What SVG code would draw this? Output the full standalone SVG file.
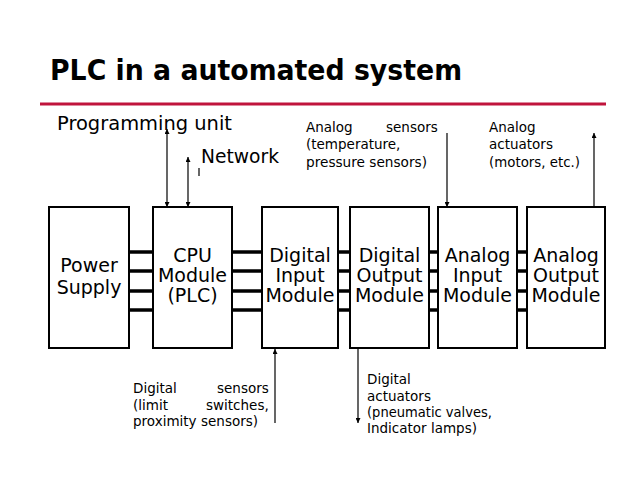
<svg xmlns="http://www.w3.org/2000/svg" width="638" height="478" viewBox="0 0 638 478">
<style>
.box{fill:#fff;stroke:#000;stroke-width:2}
.bus{stroke:#000;stroke-width:3.5}
.ln{stroke:#000;stroke-width:1.2;fill:none}
.bt{font-family:"DejaVu Sans",Verdana,sans-serif;font-size:19px;fill:#000;text-anchor:middle}
.lb{font-family:"DejaVu Sans",Verdana,sans-serif;font-size:19px;fill:#000}
.sm{font-family:"DejaVu Sans",Verdana,sans-serif;font-size:13.5px;fill:#000}
</style>
<defs>
<marker id="ah" viewBox="0 0 10 10" refX="10" refY="5" markerWidth="5" markerHeight="5" orient="auto-start-reverse" markerUnits="userSpaceOnUse">
<path d="M0,0L10,5L0,10z" fill="#000"/>
</marker>
</defs>
<rect width="638" height="478" fill="#fff"/>
<text x="50" y="80" font-family="DejaVu Sans,Verdana,sans-serif" font-weight="bold" font-size="28" textLength="412" lengthAdjust="spacingAndGlyphs">PLC in a automated system</text>
<line x1="40" y1="104" x2="606" y2="104" stroke="#C0143C" stroke-width="3"/>
<g id="connectors">
<line class="bus" x1="129" y1="252" x2="153" y2="252"/><line class="bus" x1="129" y1="271" x2="153" y2="271"/><line class="bus" x1="129" y1="291" x2="153" y2="291"/><line class="bus" x1="129" y1="310" x2="153" y2="310"/>
<line class="bus" x1="232" y1="252" x2="262" y2="252"/><line class="bus" x1="232" y1="271" x2="262" y2="271"/><line class="bus" x1="232" y1="291" x2="262" y2="291"/><line class="bus" x1="232" y1="310" x2="262" y2="310"/>
<line class="bus" x1="338" y1="252" x2="350" y2="252"/><line class="bus" x1="338" y1="271" x2="350" y2="271"/><line class="bus" x1="338" y1="291" x2="350" y2="291"/><line class="bus" x1="338" y1="310" x2="350" y2="310"/>
<line class="bus" x1="429" y1="252" x2="438" y2="252"/><line class="bus" x1="429" y1="271" x2="438" y2="271"/><line class="bus" x1="429" y1="291" x2="438" y2="291"/><line class="bus" x1="429" y1="310" x2="438" y2="310"/>
<line class="bus" x1="517" y1="252" x2="527" y2="252"/><line class="bus" x1="517" y1="271" x2="527" y2="271"/><line class="bus" x1="517" y1="291" x2="527" y2="291"/><line class="bus" x1="517" y1="310" x2="527" y2="310"/>
<line class="ln" x1="167" y1="129" x2="167" y2="207" marker-start="url(#ah)" marker-end="url(#ah)"/>
<line class="ln" x1="188" y1="157" x2="188" y2="207" marker-start="url(#ah)" marker-end="url(#ah)"/>
<line class="ln" x1="199" y1="168" x2="199" y2="176"/>
<line class="ln" x1="447" y1="133" x2="447" y2="207" marker-end="url(#ah)"/>
<line class="ln" x1="594" y1="207" x2="594" y2="133" marker-end="url(#ah)"/>
<line class="ln" x1="275" y1="423" x2="275" y2="349" marker-end="url(#ah)"/>
<line class="ln" x1="358" y1="349" x2="358" y2="423" marker-end="url(#ah)"/>
</g>
<g id="power"><rect class="box" x="49" y="207" width="80" height="141"/><text class="bt" x="89" y="272">Power</text><text class="bt" x="89" y="294">Supply</text></g>
<g id="cpu"><rect class="box" x="153" y="207" width="79" height="141"/><text class="bt" x="192.5" y="262">CPU</text><text class="bt" x="192.5" y="282">Module</text><text class="bt" x="192.5" y="302">(PLC)</text></g>
<g id="di"><rect class="box" x="262" y="207" width="76" height="141"/><text class="bt" x="300" y="262">Digital</text><text class="bt" x="300" y="282">Input</text><text class="bt" x="300" y="302">Module</text></g>
<g id="do"><rect class="box" x="350" y="207" width="79" height="141"/><text class="bt" x="389.5" y="262">Digital</text><text class="bt" x="389.5" y="282">Output</text><text class="bt" x="389.5" y="302">Module</text></g>
<g id="ai"><rect class="box" x="438" y="207" width="79" height="141"/><text class="bt" x="477.5" y="262">Analog</text><text class="bt" x="477.5" y="282">Input</text><text class="bt" x="477.5" y="302">Module</text></g>
<g id="ao"><rect class="box" x="527" y="207" width="78" height="141"/><text class="bt" x="566" y="262">Analog</text><text class="bt" x="566" y="282">Output</text><text class="bt" x="566" y="302">Module</text></g>
<g id="labels">
<text class="lb" x="57" y="130" textLength="175" lengthAdjust="spacingAndGlyphs">Programming unit</text>
<text class="lb" x="201" y="163" textLength="78" lengthAdjust="spacingAndGlyphs">Network</text>
<text class="sm" y="132"><tspan x="306">Analog</tspan><tspan x="386">sensors</tspan></text>
<text class="sm" x="306" y="149">(temperature,</text>
<text class="sm" x="306" y="166.5" textLength="121" lengthAdjust="spacingAndGlyphs">pressure sensors)</text>
<text class="sm" x="489" y="132">Analog</text>
<text class="sm" x="489" y="149">actuators</text>
<text class="sm" x="489" y="166.5" textLength="91" lengthAdjust="spacingAndGlyphs">(motors, etc.)</text>
<text class="sm" y="393"><tspan x="133">Digital</tspan><tspan x="217">sensors</tspan></text>
<text class="sm" y="410"><tspan x="133">(limit</tspan><tspan x="206">switches,</tspan></text>
<text class="sm" y="426"><tspan x="133">proximity</tspan><tspan x="201">sensors)</tspan></text>
<text class="sm" x="367" y="384">Digital</text>
<text class="sm" x="367" y="400.5">actuators</text>
<text class="sm" x="367" y="416.5" textLength="125" lengthAdjust="spacingAndGlyphs">(pneumatic valves,</text>
<text class="sm" x="367" y="432.5">Indicator lamps)</text>
</g>
</svg>
